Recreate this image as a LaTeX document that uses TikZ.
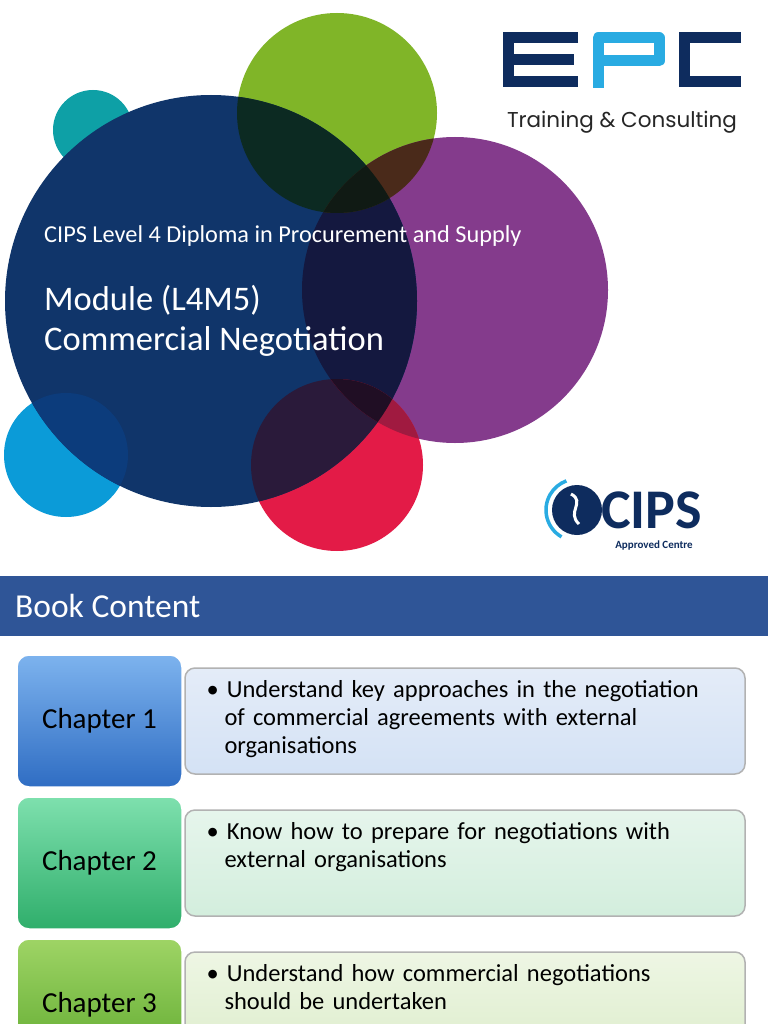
\documentclass[tikz,border=0pt]{standalone}
\usepackage{fontspec}
\setmainfont{Carlito}
\newfontfamily\lfont{Poppins}
\begin{document}
\begin{tikzpicture}[x=1pt,y=-1pt,
  txt/.style={text=white,anchor=base west,inner sep=0},
  chap/.style={rounded corners=12pt,draw=white,line width=1.5pt},
  desc/.style={rounded corners=10pt,draw=gray!60,line width=1.5pt},
  ctext/.style={font=\fontsize{29}{32}\selectfont,anchor=center},
  dtext/.style={font=\fontsize{24.5}{28}\selectfont,anchor=north west,align=left,text width=540pt}]
\useasboundingbox (0,0) rectangle (768,1024);
\fill[white] (0,0) rectangle (768,1024);
\definecolor{navy}{HTML}{10356A}
\definecolor{grn}{HTML}{80B528}
\definecolor{teal}{HTML}{0EA0A6}
\definecolor{purp}{HTML}{843B8C}
\definecolor{lblue}{HTML}{0B9BD8}
\definecolor{redc}{HTML}{E31B47}
\definecolor{npur}{HTML}{14183F}
\definecolor{ngrn}{HTML}{0C2A22}
\definecolor{nlbl}{HTML}{0C3C7C}
\definecolor{nred}{HTML}{2A1A3A}
\definecolor{pgrn}{HTML}{4A2A1A}
\definecolor{npg}{HTML}{101A14}
\definecolor{npr}{HTML}{200E24}
\definecolor{pred}{HTML}{A01A40}
\definecolor{sky}{HTML}{29ABE2}
\definecolor{band}{HTML}{2F5597}
\definecolor{logon}{HTML}{0E2C5E}
% circles
\fill[teal] (93,130) circle (40);
\fill[grn] (337,113) circle (100);
\fill[purp] (455,290) circle (153);
\fill[lblue] (66,455) circle (62);
\fill[redc] (337,465) circle (86);
\fill[navy] (211,301) circle (206);
\begin{scope}\clip (211,301) circle (206);
  \fill[npur] (455,290) circle (153);
  \fill[ngrn] (337,113) circle (100);
  \fill[nlbl] (66,455) circle (62);
  \fill[nred] (337,465) circle (86);
\end{scope}
\begin{scope}\clip (455,290) circle (153);
  \fill[pgrn] (337,113) circle (100);
  \begin{scope}\clip (211,301) circle (206);
    \fill[npg] (337,113) circle (100);
    \fill[npr] (337,465) circle (86);
  \end{scope}
\end{scope}
\begin{scope}\clip (455,290) circle (153);\clip (337,465) circle (86);
  \fill[pred] (455,290) circle (153);
  \clip (211,301) circle (206);
  \fill[npr] (455,290) circle (153);
\end{scope}
\node[txt,font=\fontsize{24.3}{28}\selectfont] (t1) at (44,242) {CIPS Level 4 Diploma in Procurement and Supply};
\node[txt,font=\fontsize{34.5}{40}\selectfont] (t2) at (44,310) {Module (L4M5)};
\node[txt,font=\fontsize{34.5}{40}\selectfont] (t3) at (44,350) {Commercial Negotiation};
% EPC logo
\draw[logon,line width=11pt] (578,38) -- (508,38) -- (508,82) -- (578,82) (508,60) -- (574,60);
\draw[sky,line width=11pt,line join=round] (598,88) -- (598,38) -- (659,38) -- (659,61) -- (598,61);
\draw[logon,line width=11pt] (741,38) -- (684,38) -- (684,82) -- (741,82);
\node[font=\lfont\fontsize{21.5}{24}\selectfont,text=black!85] (tc) at (622,122) {Training \& Consulting};
% CIPS logo
\fill[logon] (577,510) circle (25);
\draw[sky,line width=3.5pt] (577,510) ++(120:31) arc (120:250:31);
\draw[white,line width=3pt] (571,494) .. controls (586,502) and (566,512) .. (579,524);
\node[font=\bfseries\fontsize{56}{58}\selectfont,text=logon,anchor=west,inner sep=0] (cips) at (601,510) {CIPS};
\node[font=\bfseries\fontsize{11}{12}\selectfont,text=logon,anchor=north,inner sep=0] (ac) at (654,541) {Approved Centre};
% banner
\fill[band] (0,576) rectangle (768,636);
\node[txt,font=\fontsize{33.5}{36}\selectfont] (bc) at (15,617) {Book Content};
% rows
\foreach \i/\ca/\cb/\fa/\fb/\tx in {
 0/7DB3EE/2F6DC3/E4ECF8/D4E2F5/{\textbullet\ Understand key approaches in the negotiation\\\hspace*{18pt}of commercial agreements with external\\\hspace*{18pt}organisations},
 1/7EE0AE/2FAE6B/E6F5EC/D3EEDD/{\textbullet\ Know how to prepare for negotiations with\\\hspace*{18pt}external organisations},
 2/9ED465/5DA82D/EEF6E4/DDEDCC/{\textbullet\ Understand how commercial negotiations\\\hspace*{18pt}should be undertaken}}{
  \definecolor{ca}{HTML}{\ca}\definecolor{cb}{HTML}{\cb}
  \definecolor{fa}{HTML}{\fa}\definecolor{fb}{HTML}{\fb}
  \pgfmathsetmacro{\yo}{\i*142}
  \begin{scope}[yshift=-\yo pt]
  \shade[desc,top color=fa,bottom color=fb] (185,668) rectangle (745,774);
  \shade[chap,top color=ca,bottom color=cb] (17,655) rectangle (182,787);
  \node[ctext] (c\i) at (99.5,721) {Chapter \the\numexpr\i+1\relax};
  \node[dtext] (d\i) at (203,677) {\tx};
  \end{scope}
}
\end{tikzpicture}
\end{document}
